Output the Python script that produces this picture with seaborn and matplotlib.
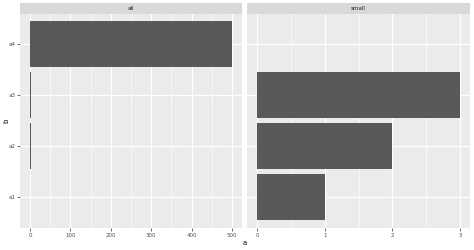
import matplotlib
matplotlib.use("Agg")
import matplotlib.pyplot as plt
import seaborn as sns
import pandas as pd
import numpy as np

categories = ["a1", "a2", "a3", "a4"]
all_values = [1, 2, 3, 500]
small_categories = ["a1", "a2", "a3"]
small_values = [1, 2, 3]
panel_names = ["all", "small"]
left_ticks = [0, 100, 200, 300, 400, 500]
right_ticks = [0, 1, 2, 3]

df_all = pd.DataFrame({"b": categories, "a": all_values})
df_small = pd.DataFrame({"b": small_categories, "a": small_values})

plt.rcParams['font.family'] = ['DejaVu Sans']
W, H = 474, 250
fig = plt.figure(figsize=(W / 100, H / 100), dpi=100)
fig.patch.set_facecolor("white")

order = categories[::-1]  # a4 at top
grey30 = "#4D4D4D"
bar_color = "#595959"

panels = [
    (df_all, 20, 242, left_ticks, [50, 150, 250, 350, 450]),
    (df_small, 247, 470, right_ticks, [0.5, 1.5, 2.5]),
]
top_px, bottom_px = 13.5, 228
strip_top = 3

axes = []
for i, (df, x0, x1, ticks, minor) in enumerate(panels):
    ax = fig.add_axes([x0 / W, (H - bottom_px) / H, (x1 - x0) / W, (bottom_px - top_px) / H])
    ax.set_facecolor("#EBEBEB")
    ax.set_axisbelow(True)
    sns.barplot(data=df, x="a", y="b", order=order, orient="h", color=bar_color,
                width=0.9, ax=ax, saturation=1, edgecolor="none", errorbar=None)
    vmax = max(ticks)
    ax.set_xlim(-0.05 * vmax, 1.05 * vmax)
    ax.set_ylim(3.6, -0.6)
    ax.set_xticks(ticks)
    ax.set_xticklabels([str(t) for t in ticks])
    ax.set_xticks(minor, minor=True)
    ax.grid(which="major", color="white", linewidth=0.9)
    ax.grid(which="minor", axis="x", color="white", linewidth=0.45)
    for s in ax.spines.values():
        s.set_visible(False)
    ax.tick_params(axis="both", which="major", length=2, width=0.5, color="#333333",
                   labelsize=4, labelcolor=grey30, pad=1.5)
    ax.tick_params(axis="both", which="minor", length=0)
    ax.set_xlabel("")
    ax.set_ylabel("")
    if i == 1:
        ax.tick_params(axis="y", length=0, labelleft=False)
    # strip
    sax = fig.add_axes([x0 / W, (H - top_px) / H, (x1 - x0) / W, (top_px - strip_top) / H])
    sax.set_facecolor("#D9D9D9")
    sax.set_xticks([]); sax.set_yticks([])
    for s in sax.spines.values():
        s.set_visible(False)
    sax.text(0.5, 0.5, panel_names[i], ha="center", va="center", fontsize=4,
             color="#1A1A1A", transform=sax.transAxes)
    axes.append(ax)

fig.text(245 / W, (H - 243) / H, "a", ha="center", va="center", fontsize=5, color="black")
fig.text(6 / W, (H - 121) / H, "b", ha="center", va="center", fontsize=5, color="black", rotation=90)

fig.savefig("out.png", dpi=100)
